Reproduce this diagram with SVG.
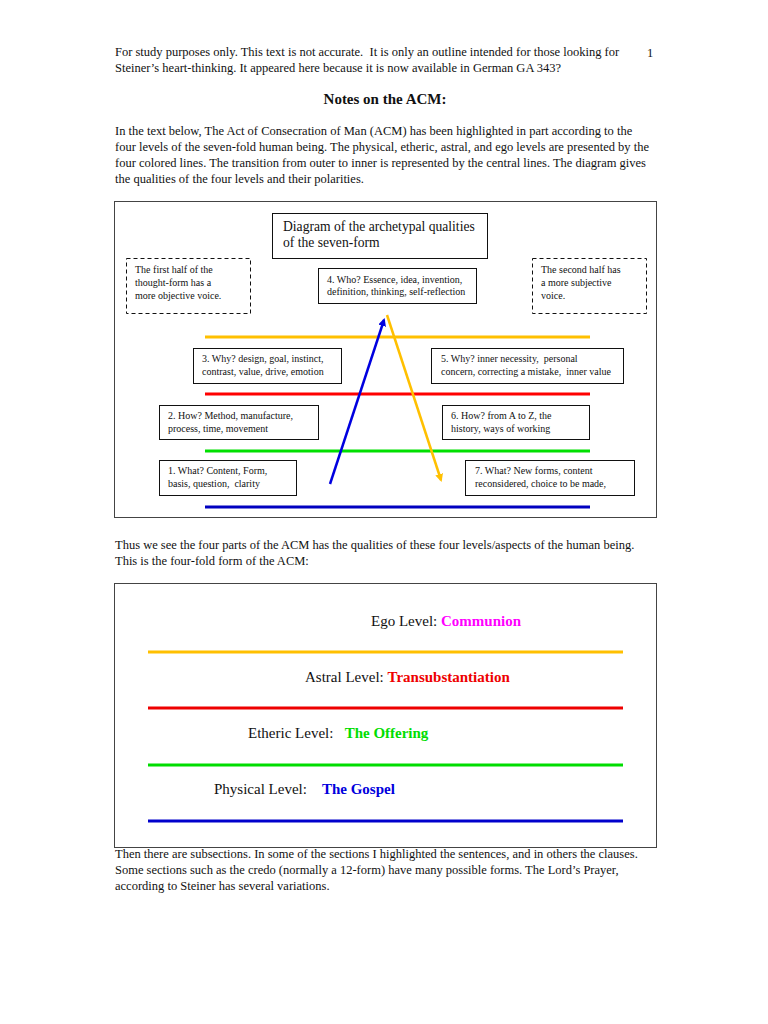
<svg xmlns="http://www.w3.org/2000/svg" width="768" height="1024" viewBox="0 0 768 1024">
<style>
.t{font-family:"Liberation Serif","Times New Roman",serif;font-size:12.5px;fill:#111;white-space:pre}
.s{font-family:"Liberation Serif","Times New Roman",serif;font-size:10px;fill:#111;white-space:pre}
.m{font-family:"Liberation Serif","Times New Roman",serif;font-size:13.6px;fill:#111}
.l{font-family:"Liberation Serif","Times New Roman",serif;font-size:15px;fill:#111;white-space:pre}
.b{font-weight:bold}
.box{fill:#fff;stroke:#111;stroke-width:1}
.dash{fill:#fff;stroke:#111;stroke-width:1;stroke-dasharray:4,3}
.frame{fill:#fff;stroke:#444;stroke-width:1}
</style>
<defs>
<marker id="ab" markerWidth="8" markerHeight="8" refX="6" refY="4" orient="auto" markerUnits="userSpaceOnUse"><path d="M0,0 L8,4 L0,8 Z" fill="#0000e0"/></marker>
<marker id="ay" markerWidth="8" markerHeight="8" refX="6" refY="4" orient="auto" markerUnits="userSpaceOnUse"><path d="M0,0 L8,4 L0,8 Z" fill="#ffc000"/></marker>
</defs>
<rect width="768" height="1024" fill="#fff"/>
<text class="t" x="115" y="56" xml:space="preserve">For study purposes only. This text is not accurate.  It is only an outline intended for those looking for</text>
<text class="t" x="115" y="72">Steiner’s heart-thinking. It appeared here because it is now available in German GA 343?</text>
<text class="t" x="647" y="57">1</text>
<text class="t b" x="385" y="104" text-anchor="middle" style="font-size:15px">Notes on the ACM:</text>
<text class="t" x="115" y="135">In the text below, The Act of Consecration of Man (ACM) has been highlighted in part according to the</text>
<text class="t" x="115" y="151">four levels of the seven-fold human being. The physical, etheric, astral, and ego levels are presented by the</text>
<text class="t" x="115" y="167">four colored lines. The transition from outer to inner is represented by the central lines. The diagram gives</text>
<text class="t" x="115" y="183">the qualities of the four levels and their polarities.</text>

<rect class="frame" x="114.5" y="201.5" width="542" height="316"/>
<g id="title"><rect class="box" x="272.5" y="213.5" width="215" height="45"/>
<text class="m" x="283" y="231">Diagram of the archetypal qualities</text>
<text class="m" x="283" y="247">of the seven-form</text></g>
<g id="first-half"><rect class="dash" x="126.5" y="258.5" width="124" height="55"/>
<text class="s" x="135" y="273">The first half of the</text>
<text class="s" x="135" y="286">thought-form has a</text>
<text class="s" x="135" y="299">more objective voice.</text></g>
<g id="second-half"><rect class="dash" x="532.5" y="258.5" width="114" height="55"/>
<text class="s" x="541" y="273">The second half has</text>
<text class="s" x="541" y="286">a more subjective</text>
<text class="s" x="541" y="299">voice.</text></g>
<g id="n4"><rect class="box" x="318.5" y="268.5" width="158" height="35"/>
<text class="s" x="327" y="283">4. Who? Essence, idea, invention,</text>
<text class="s" x="327" y="295">definition, thinking, self-reflection</text></g>
<g id="n3"><rect class="box" x="193.5" y="348.5" width="148" height="35"/>
<text class="s" x="202" y="362">3. Why? design, goal, instinct,</text>
<text class="s" x="202" y="375">contrast, value, drive, emotion</text></g>
<g id="n5"><rect class="box" x="431.5" y="348.5" width="192" height="35"/>
<text class="s" x="441" y="362" xml:space="preserve">5. Why? inner necessity,  personal</text>
<text class="s" x="441" y="375" xml:space="preserve">concern, correcting a mistake,  inner value</text></g>
<g id="n2"><rect class="box" x="159.5" y="405.5" width="159" height="34"/>
<text class="s" x="168" y="419">2. How? Method, manufacture,</text>
<text class="s" x="168" y="432">process, time, movement</text></g>
<g id="n6"><rect class="box" x="442.5" y="405.5" width="147" height="34"/>
<text class="s" x="451" y="419">6. How? from A to Z, the</text>
<text class="s" x="451" y="432">history, ways of working</text></g>
<g id="n1"><rect class="box" x="159.5" y="460.5" width="137" height="35"/>
<text class="s" x="168" y="474">1. What? Content, Form,</text>
<text class="s" x="168" y="487" xml:space="preserve">basis, question,  clarity</text></g>
<g id="n7"><rect class="box" x="465.5" y="460.5" width="169" height="35"/>
<text class="s" x="475" y="474">7. What? New forms, content</text>
<text class="s" x="475" y="487">reconsidered, choice to be made,</text></g>
<g id="connectors">
<line x1="205" y1="337" x2="590" y2="337" stroke="#ffc000" stroke-width="3"/>
<line x1="205" y1="394" x2="590" y2="394" stroke="#ff0000" stroke-width="3"/>
<line x1="205" y1="451" x2="590" y2="451" stroke="#00e000" stroke-width="3"/>
<line x1="205" y1="507" x2="590" y2="507" stroke="#0000c0" stroke-width="3"/>
<line x1="330" y1="484" x2="384" y2="320" stroke="#0000e0" stroke-width="2.5" marker-end="url(#ab)"/>
<line x1="387" y1="315" x2="441" y2="480" stroke="#ffc000" stroke-width="2.5" marker-end="url(#ay)"/>
</g>

<text class="t" x="115" y="549">Thus we see the four parts of the ACM has the qualities of these four levels/aspects of the human being.</text>
<text class="t" x="115" y="565">This is the four-fold form of the ACM:</text>

<rect class="frame" x="114.5" y="583.5" width="542" height="264"/>
<text class="l" x="371" y="626">Ego Level: <tspan class="b" fill="#ff00ff">Communion</tspan></text>
<line x1="148" y1="652" x2="623" y2="652" stroke="#ffc000" stroke-width="3"/>
<text class="l" x="305" y="682">Astral Level: <tspan class="b" fill="#ee0000">Transubstantiation</tspan></text>
<line x1="148" y1="708" x2="623" y2="708" stroke="#ee0000" stroke-width="3"/>
<text class="l" x="248" y="738" xml:space="preserve">Etheric Level:   <tspan class="b" fill="#00dd00">The Offering</tspan></text>
<line x1="148" y1="765" x2="623" y2="765" stroke="#00dd00" stroke-width="3"/>
<text class="l" x="214" y="794" xml:space="preserve">Physical Level:    <tspan class="b" fill="#0000dd">The Gospel</tspan></text>
<line x1="148" y1="821" x2="623" y2="821" stroke="#0000cc" stroke-width="3"/>

<text class="t" x="115" y="858">Then there are subsections. In some of the sections I highlighted the sentences, and in others the clauses.</text>
<text class="t" x="115" y="874">Some sections such as the credo (normally a 12-form) have many possible forms. The Lord’s Prayer,</text>
<text class="t" x="115" y="890">according to Steiner has several variations.</text>
</svg>
